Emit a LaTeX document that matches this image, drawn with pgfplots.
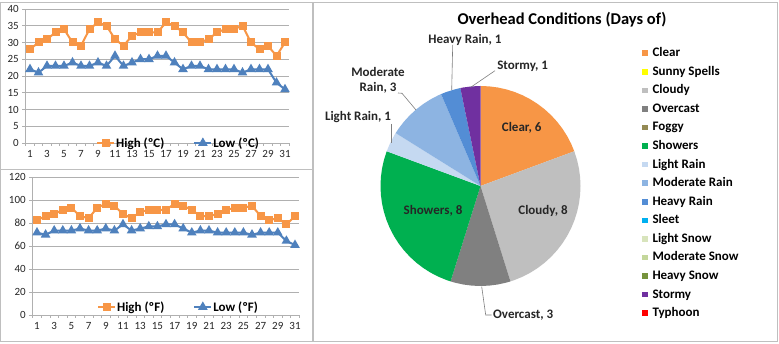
\documentclass[border=0pt]{standalone}
\usepackage{fontspec}
\setmainfont{Carlito}
\usepackage{pgfplots}
\pgfplotsset{compat=1.18}
\definecolor{orgC}{HTML}{F79646}
\definecolor{bluC}{HTML}{4F81BD}
\definecolor{gridC}{HTML}{B0B0B0}
\definecolor{frameC}{HTML}{BFBFBF}
\definecolor{leadC}{HTML}{7F7F7F}
\definecolor{pClear}{HTML}{F79646}
\definecolor{pSunny}{HTML}{FFFF00}
\definecolor{pCloudy}{HTML}{BFBFBF}
\definecolor{pOvercast}{HTML}{808080}
\definecolor{pFoggy}{HTML}{948A54}
\definecolor{pShowers}{HTML}{00B050}
\definecolor{pLightRain}{HTML}{C5D9F1}
\definecolor{pModRain}{HTML}{8DB4E2}
\definecolor{pHeavyRain}{HTML}{538DD5}
\definecolor{pSleet}{HTML}{00B0F0}
\definecolor{pLightSnow}{HTML}{D8E4BC}
\definecolor{pModSnow}{HTML}{C4D79B}
\definecolor{pHeavySnow}{HTML}{76933C}
\definecolor{pStormy}{HTML}{7030A0}
\definecolor{pTyphoon}{HTML}{FF0000}

\pgfplotstableread{
day hiC loC hiF loF
1 28 22 82.4 71.6
2 30 21 86 69.8
3 31 23 87.8 73.4
4 33 23 91.4 73.4
5 34 23 93.2 73.4
6 30 24 86 75.2
7 29 23 84.2 73.4
8 34 23 93.2 73.4
9 36 24 96.8 75.2
10 35 23 95 73.4
11 31 26 87.8 78.8
12 29 23 84.2 73.4
13 32 24 89.6 75.2
14 33 25 91.4 77
15 33 25 91.4 77
16 33 26 91.4 78.8
17 36 26 96.8 78.8
18 35 24 95 75.2
19 33 22 91.4 71.6
20 30 23 86 73.4
21 30 23 86 73.4
22 31 22 87.8 71.6
23 33 22 91.4 71.6
24 34 22 93.2 71.6
25 34 22 93.2 71.6
26 35 21 95 69.8
27 30 22 86 71.6
28 28 22 82.4 71.6
29 29 22 84.2 71.6
30 26 18 78.8 64.4
31 30 16 86 60.8
}\temps

\pgfplotsset{
  linechart/.style={
    scale only axis, xmin=0.5, xmax=31.5,
    xtick={1,3,...,31}, minor xtick={0.5,1.5,...,31.5},
    axis x line*=bottom, axis y line*=left,
    axis line style={gridC, line width=0.7pt},
    tick align=outside, major tick length=3.5pt, minor tick length=3pt,
    xtick style={draw=none}, minor x tick style={draw=gridC, line width=0.6pt},
    ytick style={draw=gridC, line width=0.6pt},
    ymajorgrids, grid style={gridC, line width=0.6pt},
    tick label style={font=\fontsize{11}{12}\selectfont, text=black!85},
    /pgf/number format/assume math mode=true,
    legend columns=2,
    legend style={draw=none, fill=none, inner sep=0pt,
      font=\bfseries\fontsize{13}{15}\selectfont,
      nodes={inner sep=1pt},
      /tikz/every even column/.append style={column sep=28pt}},
  },
  hiline/.style={orgC, line width=2pt, mark=square*, mark size=3pt, mark options={fill=orgC, draw=orgC}},
  loline/.style={bluC, line width=2pt, mark=triangle*, mark size=3.6pt, mark options={fill=bluC, draw=bluC}},
}

\begin{document}
\begin{tikzpicture}[x=1pt,y=1pt]
\useasboundingbox (0,0) rectangle (779,344);
\fill[white] (0,0) rectangle (779,344);
\draw[frameC, line width=1pt] (0.5,341) rectangle (312,174);
\draw[frameC, line width=1pt] (0.5,174) rectangle (312,2);
\draw[frameC, line width=1pt] (313,341) rectangle (777.5,2);

% top: Celsius
\begin{axis}[linechart, at={(25.75pt,201pt)}, anchor=south west,
  width=263.5pt, height=134pt, ymin=0, ymax=40, ytick={0,5,...,40},
  legend style={at={(0.578,0.0)}, anchor=center}]
\addplot[hiline] table[x=day, y=hiC] {\temps};
\addlegendentry{High (ºC)}
\addplot[loline] table[x=day, y=loC] {\temps};
\addlegendentry{Low (ºC)}
\end{axis}

% bottom: Fahrenheit
\begin{axis}[linechart, at={(32.7pt,29pt)}, anchor=south west,
  width=266.6pt, height=138pt, ymin=0, ymax=120, ytick={0,20,...,120},
  legend style={at={(0.545,0.058)}, anchor=center}]
\addplot[hiline] table[x=day, y=hiF] {\temps};
\addlegendentry{High (ºF)}
\addplot[loline] table[x=day, y=loF] {\temps};
\addlegendentry{Low (ºF)}
\end{axis}

% pie
\begin{axis}[at={(480.5pt,158pt)}, anchor=center, scale only axis,
  width=200pt, height=200pt, xmin=-1, xmax=1, ymin=-1, ymax=1, hide axis,
  clip=false,
  legend style={at={(1.306,1.1975)}, anchor=north west, draw=none, fill=none,
    inner sep=0pt, row sep=5.57pt,
    font=\bfseries\fontsize{13}{13}\selectfont,
    nodes={inner sep=0pt, text height=10pt, text depth=3pt},
    /tikz/every odd column/.append style={column sep=5pt}},
  legend cell align=left,
  legend image code/.code={\fill[#1, draw=none] (0pt,-2.8pt) rectangle (5.6pt,2.8pt);}]
% Clear 6
\addplot[data cs=polar, fill=pClear, draw=none, forget plot] coordinates {(0,0) (90,1) (85,1) (80,1) (75,1) (70,1) (65,1) (60,1) (55,1) (50,1) (45,1) (40,1) (35,1) (30,1) (25,1) (20.323,1)} --cycle;
% Cloudy 8
\addplot[data cs=polar, fill=pCloudy, draw=none, forget plot] coordinates {(0,0) (20.323,1) (15,1) (10,1) (5,1) (0,1) (-5,1) (-10,1) (-15,1) (-20,1) (-25,1) (-30,1) (-35,1) (-40,1) (-45,1) (-50,1) (-55,1) (-60,1) (-65,1) (-70,1) (-72.581,1)} --cycle;
% Overcast 3
\addplot[data cs=polar, fill=pOvercast, draw=none, forget plot] coordinates {(0,0) (-72.581,1) (-75,1) (-80,1) (-85,1) (-90,1) (-95,1) (-100,1) (-105,1) (-107.419,1)} --cycle;
% Showers 8
\addplot[data cs=polar, fill=pShowers, draw=none, forget plot] coordinates {(0,0) (-107.419,1) (-110,1) (-115,1) (-120,1) (-125,1) (-130,1) (-135,1) (-140,1) (-145,1) (-150,1) (-155,1) (-160,1) (-165,1) (-170,1) (-175,1) (-180,1) (-185,1) (-190,1) (-195,1) (-200,1) (-200.323,1)} --cycle;
% Light Rain 1
\addplot[data cs=polar, fill=pLightRain, draw=none, forget plot] coordinates {(0,0) (-200.323,1) (-205,1) (-210,1) (-211.935,1)} --cycle;
% Moderate Rain 3
\addplot[data cs=polar, fill=pModRain, draw=none, forget plot] coordinates {(0,0) (-211.935,1) (-215,1) (-220,1) (-225,1) (-230,1) (-235,1) (-240,1) (-245,1) (-246.774,1)} --cycle;
% Heavy Rain 1
\addplot[data cs=polar, fill=pHeavyRain, draw=none, forget plot] coordinates {(0,0) (-246.774,1) (-250,1) (-255,1) (-258.387,1)} --cycle;
% Stormy 1
\addplot[data cs=polar, fill=pStormy, draw=none, forget plot] coordinates {(0,0) (-258.387,1) (-260,1) (-265,1) (-270,1)} --cycle;

\addlegendimage{fill=pClear}\addlegendentry{Clear}
\addlegendimage{fill=pSunny}\addlegendentry{Sunny Spells}
\addlegendimage{fill=pCloudy}\addlegendentry{Cloudy}
\addlegendimage{fill=pOvercast}\addlegendentry{Overcast}
\addlegendimage{fill=pFoggy}\addlegendentry{Foggy}
\addlegendimage{fill=pShowers}\addlegendentry{Showers}
\addlegendimage{fill=pLightRain}\addlegendentry{Light Rain}
\addlegendimage{fill=pModRain}\addlegendentry{Moderate Rain}
\addlegendimage{fill=pHeavyRain}\addlegendentry{Heavy Rain}
\addlegendimage{fill=pSleet}\addlegendentry{Sleet}
\addlegendimage{fill=pLightSnow}\addlegendentry{Light Snow}
\addlegendimage{fill=pModSnow}\addlegendentry{Moderate Snow}
\addlegendimage{fill=pHeavySnow}\addlegendentry{Heavy Snow}
\addlegendimage{fill=pStormy}\addlegendentry{Stormy}
\addlegendimage{fill=pTyphoon}\addlegendentry{Typhoon}
\end{axis}

% pie title and labels
\node[font=\bfseries\fontsize{16.5}{18}\selectfont] at (562,324) {Overhead Conditions (Days of)};
\begin{scope}[font=\bfseries\fontsize{13}{15}\selectfont]
\node[text=black!85] at (521.7,216) {Clear, 6};
\node[text=black!85] at (543,133) {Cloudy, 8};
\node[text=black!85] at (433,133) {Showers, 8};
\node[anchor=west, inner sep=0pt, text=black!85] at (493,29) {Overcast, 3};
\node[text=black!85] at (358,227) {Light Rain, 1};
\node[text=black!85, align=center] at (378,264) {Moderate\\Rain, 3};
\node[text=black!85] at (465,304) {Heavy Rain, 1};
\node[text=black!85] at (522.7,277.3) {Stormy, 1};
\end{scope}
\begin{scope}[leadC, line width=0.6pt]
\draw (481.7,57.3) -- (485.7,29) -- (491.7,29);
\draw (391.7,220) -- (391.7,201.3);
\draw (398,251) -- (402,250.7) -- (416,234);
\draw (452.7,299) -- (451.7,254);
\draw (495,273.3) -- (470.7,256.7);
\end{scope}
\end{tikzpicture}
\end{document}
